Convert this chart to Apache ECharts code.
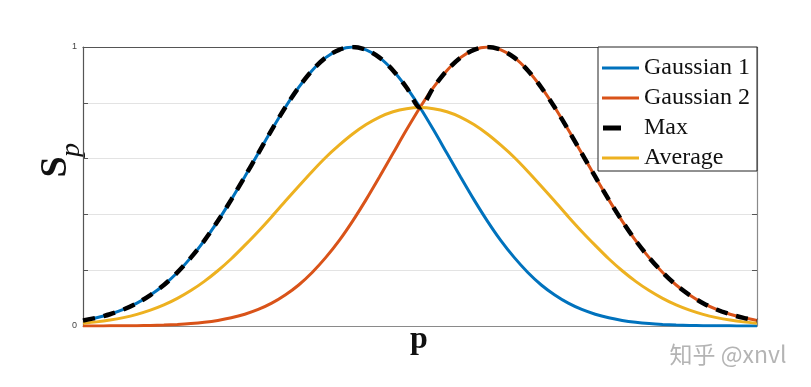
<!DOCTYPE html>
<html>
<head>
<meta charset="utf-8">
<script src="https://cdn.jsdelivr.net/npm/echarts@6/dist/echarts.min.js"></script>
<style>
html,body{margin:0;padding:0;background:#fff;}
#chart{width:811px;height:387px;}
</style>
</head>
<body>
<div id="chart"></div>
<script>
var pValues = [0,0.02,0.04,0.06,0.08,0.10,0.12,0.14,0.16,0.18,0.20,0.22,0.24,0.26,0.28,0.30,0.32,0.34,0.36,0.38,0.40,0.42,0.44,0.46,0.48,0.50,0.52,0.54,0.56,0.58,0.60,0.62,0.64,0.66,0.68,0.70,0.72,0.74,0.76,0.78,0.80,0.82,0.84,0.86,0.88,0.90,0.92,0.94,0.96,0.98,1.00];
var gaussian1 = [0.0200,0.0293,0.0421,0.0592,0.0818,0.111,0.147,0.192,0.245,0.306,0.376,0.453,0.535,0.619,0.703,0.783,0.855,0.916,0.962,0.990,1.000,0.990,0.962,0.916,0.855,0.783,0.703,0.619,0.535,0.453,0.376,0.306,0.245,0.192,0.147,0.111,0.0818,0.0592,0.0421,0.0293,0.0200,0.0134,0.0088,0.0057,0.0036,0.0022,0.0013,0.0008,0.0005,0.0003,0.0002];
var gaussian2 = [0.0002,0.0003,0.0005,0.0008,0.0013,0.0022,0.0036,0.0057,0.0088,0.0134,0.0200,0.0293,0.0421,0.0592,0.0818,0.111,0.147,0.192,0.245,0.306,0.376,0.453,0.535,0.619,0.703,0.783,0.855,0.916,0.962,0.990,1.000,0.990,0.962,0.916,0.855,0.783,0.703,0.619,0.535,0.453,0.376,0.306,0.245,0.192,0.147,0.111,0.0818,0.0592,0.0421,0.0293,0.0200];
var maxVals = [0.0200,0.0293,0.0421,0.0592,0.0818,0.111,0.147,0.192,0.245,0.306,0.376,0.453,0.535,0.619,0.703,0.783,0.855,0.916,0.962,0.990,1.000,0.990,0.962,0.916,0.855,0.783,0.855,0.916,0.962,0.990,1.000,0.990,0.962,0.916,0.855,0.783,0.703,0.619,0.535,0.453,0.376,0.306,0.245,0.192,0.147,0.111,0.0818,0.0592,0.0421,0.0293,0.0200];
var avgVals = [0.0101,0.0148,0.0213,0.0300,0.0416,0.0566,0.0753,0.0989,0.127,0.160,0.198,0.241,0.289,0.339,0.392,0.447,0.501,0.554,0.604,0.648,0.688,0.722,0.749,0.768,0.779,0.783,0.779,0.768,0.749,0.722,0.688,0.648,0.604,0.554,0.501,0.447,0.392,0.339,0.289,0.241,0.198,0.160,0.127,0.0989,0.0753,0.0566,0.0416,0.0300,0.0213,0.0148,0.0101];
var seriesNames = ['Gaussian 1','Gaussian 2','Max','Average'];
var yTickLabels = {0:'0',1:'1'};

function pairs(vals){ return pValues.map(function(p,i){ return [p, vals[i]]; }); }

var lineIcon = 'path://M0,-1.5 L37,-1.5 L37,1.5 L0,1.5 Z';
var dashIcon = 'path://M0,-2.5 L0.01,-2.5 L0.01,-2.49 Z M1,-2.5 L19,-2.5 L19,2.5 L1,2.5 Z M36.99,2.49 L37,2.49 L37,2.5 Z';

var chart = echarts.init(document.getElementById('chart'), null, {renderer:'canvas'});
var serif = '"Liberation Serif", "DejaVu Serif", serif';
var option = {
  animation: false,
  backgroundColor: '#fff',
  grid: {left: 83, right: 54, top: 47, bottom: 61, containLabel: false},
  xAxis: [
    {type:'value', min:0, max:1, position:'bottom',
     axisLine:{show:true, onZero:false, lineStyle:{color:'#8a8a8a', width:1.2}},
     axisTick:{show:false}, axisLabel:{show:false}, splitLine:{show:false}},
    {type:'value', min:0, max:1, position:'top',
     axisLine:{show:true, onZero:false, lineStyle:{color:'#555', width:1.2}},
     axisTick:{show:false}, axisLabel:{show:false}, splitLine:{show:false}}
  ],
  yAxis: [
    {type:'value', min:0, max:1, interval:0.2, position:'left',
     axisLine:{show:true, onZero:false, lineStyle:{color:'#555', width:1.2}},
     axisTick:{show:true, inside:true, length:5, lineStyle:{color:'#555'}},
     axisLabel:{color:'#444', fontSize:9, fontFamily:'"Liberation Sans", Arial, sans-serif', margin:6,
       formatter:function(v){ var k = Math.round(v*10)/10; return yTickLabels[k] !== undefined ? yTickLabels[k] : ''; }},
     splitLine:{show:true, lineStyle:{color:'#e3e3e3', width:1}}},
    {type:'value', min:0, max:1, interval:0.2, position:'right',
     axisLine:{show:true, onZero:false, lineStyle:{color:'#8a8a8a', width:1.2}},
     axisTick:{show:true, inside:true, length:5, lineStyle:{color:'#555'}},
     axisLabel:{show:false}, splitLine:{show:false}}
  ],
  legend: {
    orient:'vertical', left:598, top:47,
    backgroundColor:'#fff', borderColor:'#222', borderWidth:1,
    padding:[9,7,1,4], itemGap:6, itemWidth:37, itemHeight:14,
    itemStyle:{borderWidth:0},
    textStyle:{fontFamily:serif, fontSize:24, color:'#111', lineHeight:24},
    data: [
      {name:seriesNames[0], icon:lineIcon},
      {name:seriesNames[1], icon:lineIcon},
      {name:seriesNames[2], icon:dashIcon},
      {name:seriesNames[3], icon:lineIcon}
    ]
  },
  series: [
    {name:seriesNames[0], type:'line', data:pairs(gaussian1), showSymbol:false, smooth:0.3, z:2,
     lineStyle:{color:'#0072BD', width:3}, itemStyle:{color:'#0072BD'}},
    {name:seriesNames[1], type:'line', data:pairs(gaussian2), showSymbol:false, smooth:0.3, z:2,
     lineStyle:{color:'#D95319', width:3}, itemStyle:{color:'#D95319'}},
    {name:seriesNames[2], type:'line', data:pairs(maxVals), showSymbol:false, smooth:0.3, z:4,
     lineStyle:{color:'#000', width:4.5, type:[12,9], cap:'butt'}, itemStyle:{color:'#000'}},
    {name:seriesNames[3], type:'line', data:pairs(avgVals), showSymbol:false, smooth:0.3, z:3,
     lineStyle:{color:'#EDB120', width:3}, itemStyle:{color:'#EDB120'}}
  ],
  graphic: [
    {type:'text', x:56, y:167, rotation:Math.PI/2,
     style:{text:'S', font:'bold 38px ' + serif, fill:'#111', textAlign:'center', textVerticalAlign:'middle'}},
    {type:'text', x:72, y:150, rotation:Math.PI/2,
     style:{text:'p', font:'italic 28px ' + serif, fill:'#111', textAlign:'center', textVerticalAlign:'middle'}},
    {type:'text', x:419, y:340,
     style:{text:'p', font:'bold 32px ' + serif, fill:'#111', textAlign:'center', textVerticalAlign:'middle'}},
    {type:'text', x:728, y:354,
     style:{text:'知乎 @xnvl', font:'23px "Noto Sans CJK SC", sans-serif', fill:'#b4b4b4', textAlign:'center', textVerticalAlign:'middle'}}
  ]
};
chart.setOption(option);
</script>
</body>
</html>
